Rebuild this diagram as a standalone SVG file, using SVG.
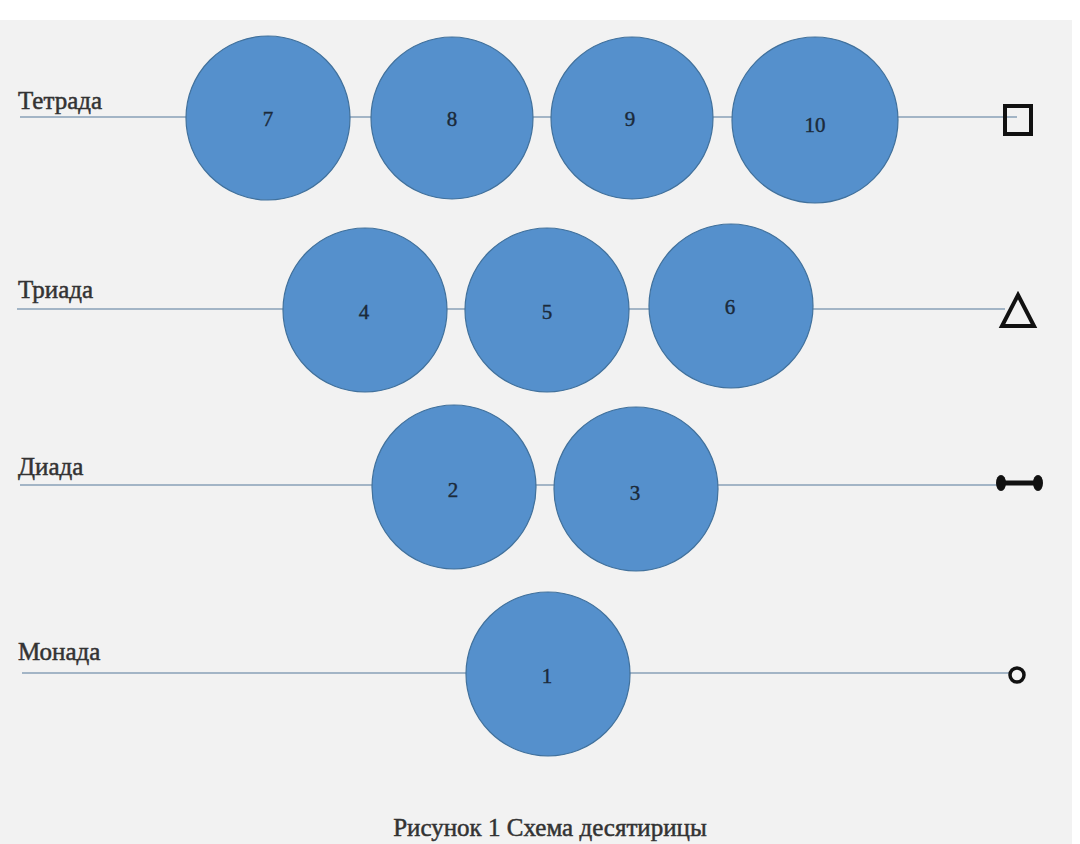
<svg xmlns="http://www.w3.org/2000/svg" width="1080" height="844" viewBox="0 0 1080 844">
<style>
.ln{stroke:#a3b5c6;stroke-width:2.2;fill:none}
.c{fill:#5590cc;stroke:#41719c;stroke-width:1.2}
.n{font-family:"Liberation Serif",serif;font-size:21px;fill:#1b2a3a;stroke:#1b2a3a;stroke-width:0.4;text-anchor:middle}
.lb{font-family:"Liberation Serif",serif;font-size:25px;fill:#333;stroke:#333;stroke-width:0.5}
.sym{fill:none;stroke:#111;stroke-width:4}
</style>
<rect x="0" y="0" width="1080" height="844" fill="#ffffff"/>
<rect x="0" y="20" width="1072" height="824" fill="#f2f2f2"/>
<g id="connectors">
<line class="ln" x1="20" y1="117" x2="1017" y2="117"/>
<line class="ln" x1="17" y1="309" x2="1005" y2="309"/>
<line class="ln" x1="20" y1="485" x2="1000" y2="485"/>
<line class="ln" x1="22" y1="673" x2="1010" y2="673"/>
</g>
<g id="labels">
<text class="lb" x="18" y="109">Тетрада</text>
<text class="lb" x="18" y="298">Триада</text>
<text class="lb" x="18" y="475">Диада</text>
<text class="lb" x="18" y="660">Монада</text>
</g>
<g id="n7"><circle class="c" cx="268" cy="118" r="82"/><text class="n" x="268" y="126">7</text></g>
<g id="n8"><circle class="c" cx="452" cy="118" r="81"/><text class="n" x="452" y="126">8</text></g>
<g id="n9"><circle class="c" cx="632" cy="118" r="81"/><text class="n" x="630" y="126">9</text></g>
<g id="n10"><circle class="c" cx="815" cy="120" r="83"/><text class="n" x="815" y="132">10</text></g>
<g id="n4"><circle class="c" cx="365" cy="310" r="82"/><text class="n" x="364" y="319">4</text></g>
<g id="n5"><circle class="c" cx="547" cy="310" r="82"/><text class="n" x="547" y="319">5</text></g>
<g id="n6"><circle class="c" cx="731" cy="306" r="82"/><text class="n" x="730" y="314">6</text></g>
<g id="n2"><circle class="c" cx="454" cy="487" r="82"/><text class="n" x="453" y="497">2</text></g>
<g id="n3"><circle class="c" cx="636" cy="489" r="82"/><text class="n" x="635" y="500">3</text></g>
<g id="n1"><circle class="c" cx="548" cy="674" r="82"/><text class="n" x="547" y="683">1</text></g>
<g id="symbols">
<rect class="sym" x="1005" y="106" width="26" height="28"/>
<polygon class="sym" points="1018,295 1034,326 1002,326" stroke-linejoin="miter"/>
<line x1="1000" y1="483" x2="1039" y2="483" stroke="#111" stroke-width="5"/>
<ellipse cx="1001" cy="483" rx="5" ry="8" fill="#111"/>
<ellipse cx="1038" cy="483" rx="5" ry="8" fill="#111"/>
<circle cx="1017" cy="675" r="7" fill="none" stroke="#111" stroke-width="3.5"/>
</g>
<text class="lb" x="550" y="836" text-anchor="middle" font-size="26">Рисунок 1 Схема десятирицы</text>
</svg>
